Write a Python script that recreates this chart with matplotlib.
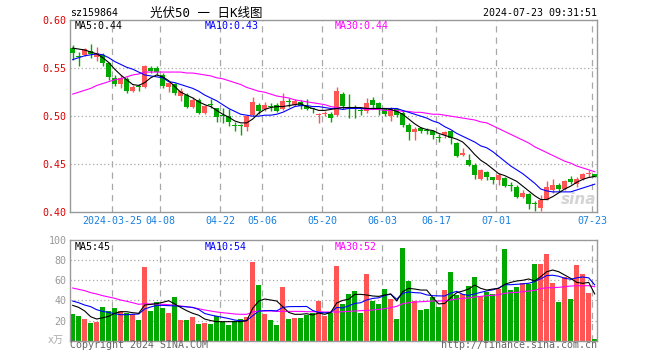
import matplotlib
matplotlib.use("Agg")
import numpy as np
import pandas as pd
import matplotlib.pyplot as plt

plt.rcParams['font.family'] = ['DejaVu Sans Mono', 'Noto Sans CJK SC']

# trading days shown: 2024-03-14 .. 2024-07-23 (exchange holidays removed)
holidays = ["2024-04-04", "2024-04-05", "2024-05-01", "2024-05-02", "2024-05-03", "2024-06-10"]
days = pd.bdate_range("2024-03-14", "2024-07-23")
days = days[~days.isin(pd.to_datetime(holidays))]

tick_dates = ["2024-03-25", "2024-04-08", "2024-04-22", "2024-05-06", "2024-05-20",
              "2024-06-03", "2024-06-17", "2024-07-01", "2024-07-23"]
tick_labels = ["2024-03-25", "04-08", "04-22", "05-06", "05-20",
               "06-03", "06-17", "07-01", "07-23"]

opens = [0.571, 0.563, 0.564, 0.568, 0.562, 0.564, 0.555, 0.540, 0.534, 0.539,
         0.526, 0.531, 0.530, 0.550, 0.550, 0.543, 0.530, 0.534, 0.521, 0.522,
         0.510, 0.517, 0.503, 0.513, 0.508, 0.501, 0.500, 0.491, 0.491, 0.489,
         0.501, 0.512, 0.507, 0.511, 0.512, 0.507, 0.516, 0.512, 0.515, 0.511,
         0.508, 0.501, 0.502, 0.502, 0.501, 0.523, 0.510, 0.510, 0.506, 0.505,
         0.517, 0.514, 0.507, 0.500, 0.507, 0.503, 0.491, 0.483, 0.488, 0.486,
         0.484, 0.478, 0.480, 0.484, 0.472, 0.459, 0.454, 0.449, 0.434, 0.442,
         0.436, 0.433, 0.435, 0.428, 0.426, 0.416, 0.419, 0.409, 0.404, 0.413,
         0.423, 0.428, 0.424, 0.434, 0.429, 0.434, 0.440, 0.440]
closes = [0.566, 0.562, 0.570, 0.565, 0.566, 0.555, 0.541, 0.534, 0.540, 0.526,
          0.530, 0.530, 0.552, 0.547, 0.546, 0.531, 0.535, 0.524, 0.526, 0.510,
          0.517, 0.503, 0.511, 0.512, 0.499, 0.500, 0.494, 0.490, 0.490, 0.500,
          0.515, 0.505, 0.512, 0.510, 0.505, 0.516, 0.515, 0.516, 0.511, 0.507,
          0.507, 0.502, 0.502, 0.498, 0.526, 0.511, 0.508, 0.507, 0.505, 0.514,
          0.512, 0.507, 0.502, 0.508, 0.501, 0.491, 0.483, 0.487, 0.484, 0.485,
          0.480, 0.477, 0.483, 0.477, 0.458, 0.462, 0.449, 0.439, 0.444, 0.436,
          0.433, 0.439, 0.427, 0.427, 0.416, 0.420, 0.408, 0.408, 0.413, 0.426,
          0.428, 0.424, 0.432, 0.431, 0.434, 0.440, 0.441, 0.437]
highs = [0.574, 0.567, 0.571, 0.575, 0.572, 0.566, 0.556, 0.543, 0.543, 0.541,
         0.533, 0.534, 0.553, 0.552, 0.552, 0.545, 0.536, 0.535, 0.529, 0.524,
         0.520, 0.519, 0.512, 0.518, 0.509, 0.509, 0.507, 0.494, 0.492, 0.501,
         0.520, 0.514, 0.515, 0.514, 0.514, 0.524, 0.519, 0.518, 0.517, 0.518,
         0.509, 0.503, 0.505, 0.504, 0.530, 0.525, 0.523, 0.512, 0.508, 0.519,
         0.520, 0.515, 0.509, 0.510, 0.509, 0.506, 0.493, 0.489, 0.489, 0.488,
         0.486, 0.481, 0.485, 0.485, 0.473, 0.467, 0.460, 0.451, 0.445, 0.443,
         0.437, 0.441, 0.436, 0.431, 0.428, 0.423, 0.420, 0.411, 0.418, 0.432,
         0.434, 0.430, 0.433, 0.438, 0.437, 0.441, 0.444, 0.440]
lows = [0.559, 0.552, 0.563, 0.561, 0.558, 0.552, 0.538, 0.531, 0.529, 0.524,
        0.525, 0.526, 0.529, 0.545, 0.543, 0.529, 0.525, 0.522, 0.516, 0.508,
        0.509, 0.502, 0.502, 0.508, 0.494, 0.493, 0.490, 0.484, 0.480, 0.485,
        0.500, 0.502, 0.505, 0.505, 0.504, 0.506, 0.510, 0.511, 0.507, 0.506,
        0.503, 0.493, 0.500, 0.494, 0.500, 0.507, 0.498, 0.498, 0.501, 0.503,
        0.508, 0.501, 0.500, 0.495, 0.499, 0.489, 0.475, 0.475, 0.482, 0.481,
        0.476, 0.473, 0.477, 0.471, 0.457, 0.458, 0.448, 0.434, 0.433, 0.433,
        0.429, 0.428, 0.426, 0.422, 0.415, 0.415, 0.403, 0.401, 0.401, 0.413,
        0.420, 0.421, 0.423, 0.429, 0.426, 0.433, 0.436, 0.437]

ma5 = [0.571, 0.570, 0.569, 0.567, 0.565, 0.561, 0.556, 0.549, 0.543, 0.538,
       0.533, 0.532, 0.535, 0.540, 0.543, 0.541, 0.537, 0.531, 0.525, 0.522,
       0.519, 0.515, 0.512, 0.510, 0.506, 0.502, 0.499, 0.495, 0.493, 0.493,
       0.497, 0.503, 0.507, 0.509, 0.510, 0.510, 0.511, 0.512, 0.513, 0.510,
       0.508, 0.506, 0.506, 0.507, 0.508, 0.509, 0.509, 0.509, 0.509, 0.508,
       0.508, 0.508, 0.508, 0.507, 0.505, 0.502, 0.497, 0.492, 0.488, 0.486,
       0.485, 0.482, 0.480, 0.478, 0.476, 0.473, 0.467, 0.460, 0.454, 0.450,
       0.445, 0.440, 0.438, 0.435, 0.432, 0.427, 0.422, 0.417, 0.413, 0.413,
       0.416, 0.420, 0.424, 0.427, 0.431, 0.434, 0.436, 0.437]
ma10 = [0.559, 0.561, 0.563, 0.564, 0.565, 0.564, 0.561, 0.557, 0.554, 0.551,
        0.549, 0.546, 0.543, 0.542, 0.541, 0.540, 0.536, 0.535, 0.533, 0.531,
        0.529, 0.526, 0.522, 0.519, 0.516, 0.512, 0.508, 0.505, 0.502, 0.501,
        0.500, 0.500, 0.501, 0.501, 0.502, 0.504, 0.507, 0.510, 0.511, 0.511,
        0.510, 0.510, 0.509, 0.508, 0.508, 0.507, 0.508, 0.508, 0.508, 0.508,
        0.508, 0.508, 0.508, 0.508, 0.508, 0.506, 0.504, 0.502, 0.500, 0.498,
        0.495, 0.493, 0.489, 0.486, 0.482, 0.479, 0.476, 0.473, 0.469, 0.467,
        0.463, 0.458, 0.453, 0.448, 0.444, 0.440, 0.435, 0.430, 0.424, 0.422,
        0.421, 0.421, 0.421, 0.421, 0.423, 0.425, 0.427, 0.429]
ma30 = [0.523, 0.525, 0.527, 0.529, 0.532, 0.534, 0.536, 0.538, 0.539, 0.541,
        0.543, 0.544, 0.546, 0.546, 0.546, 0.546, 0.546, 0.546, 0.546, 0.545,
        0.545, 0.544, 0.543, 0.542, 0.540, 0.539, 0.537, 0.535, 0.533, 0.530,
        0.528, 0.526, 0.525, 0.523, 0.521, 0.520, 0.519, 0.517, 0.516, 0.515,
        0.514, 0.513, 0.512, 0.510, 0.509, 0.509, 0.508, 0.508, 0.508, 0.507,
        0.507, 0.507, 0.506, 0.506, 0.506, 0.505, 0.505, 0.504, 0.504, 0.503,
        0.502, 0.502, 0.501, 0.500, 0.499, 0.498, 0.497, 0.496, 0.494, 0.493,
        0.490, 0.487, 0.484, 0.481, 0.478, 0.475, 0.472, 0.468, 0.465, 0.462,
        0.459, 0.456, 0.453, 0.451, 0.448, 0.446, 0.444, 0.442]

# volume in 万
volume = [26.8, 24.8, 21.5, 17.9, 18.9, 33.8, 29.8, 32.8, 29.5, 27.8,
          26.2, 20.9, 73.5, 29.8, 38.4, 32.8, 27.8, 43.7, 20.2, 20.5,
          23.8, 16.9, 17.9, 16.9, 24.8, 18.2, 15.9, 19.9, 21.5, 23.8,
          78.5, 55.6, 26.8, 20.5, 15.9, 53.6, 21.5, 22.5, 22.5, 25.8,
          27.8, 39.7, 24.8, 27.5, 74.5, 36.4, 46.4, 49.3, 27.8, 66.2,
          39.7, 36.4, 51.7, 41.7, 21.5, 92.4, 59.6, 39.1, 30.5, 31.5,
          43.7, 33.8, 50.3, 68.2, 45.4, 46.4, 54.3, 63.2, 44.4, 48.7,
          46.4, 51.3, 91.1, 50.3, 53.6, 57.6, 56.3, 76.2, 76.2, 86.1,
          57.6, 38.4, 63.6, 41.7, 75.2, 66.6, 47.7, 1.7]
vma5 = [35.1, 33.1, 29.5, 23.8, 21.5, 22.8, 24.2, 27.2, 28.8, 28.8,
        27.8, 27.2, 35.4, 36.1, 36.8, 38.1, 39.7, 36.5, 33.0, 29.8,
        27.2, 25.3, 21.5, 20.0, 18.9, 18.9, 18.9, 18.9, 18.9, 19.9,
        32.1, 39.4, 41.4, 40.4, 39.4, 33.8, 28.1, 26.2, 26.2, 26.8,
        25.5, 27.5, 26.2, 28.1, 37.5, 40.0, 41.2, 46.0, 46.0, 45.4,
        44.4, 44.0, 45.4, 46.4, 39.4, 48.7, 52.0, 51.3, 50.3, 50.3,
        43.0, 36.5, 37.0, 42.7, 47.7, 49.3, 51.3, 55.3, 52.0, 50.3,
        51.3, 52.0, 56.0, 57.9, 59.3, 60.0, 61.3, 59.3, 63.6, 68.5,
        70.2, 68.5, 65.2, 61.9, 57.9, 57.0, 57.9, 46.4]
vma10 = [39.4, 37.7, 35.4, 33.8, 30.8, 29.1, 28.1, 26.8, 25.8, 25.8,
         26.2, 26.5, 31.5, 33.5, 35.0, 35.1, 34.8, 34.6, 34.1, 33.6,
         33.1, 31.0, 27.0, 25.5, 24.3, 23.2, 22.0, 20.5, 19.8, 19.9,
         24.8, 29.4, 29.8, 30.0, 29.6, 33.0, 33.8, 33.9, 33.9, 34.0,
         30.0, 28.0, 27.7, 28.0, 33.0, 32.6, 34.6, 37.0, 37.7, 40.5,
         42.0, 42.6, 44.8, 46.3, 41.2, 47.0, 48.4, 47.7, 47.4, 45.5,
         44.7, 44.5, 44.4, 47.2, 49.0, 46.0, 45.0, 46.5, 48.0, 49.4,
         50.5, 52.3, 55.6, 55.6, 56.0, 56.5, 57.0, 58.8, 61.5, 64.7,
         65.0, 64.0, 62.0, 61.0, 62.4, 63.3, 62.4, 55.4]
vma30 = [52.3, 51.0, 49.7, 47.7, 46.4, 44.7, 43.4, 42.1, 40.4, 39.1,
         37.7, 36.1, 36.8, 36.4, 36.4, 36.1, 35.8, 35.1, 34.4, 33.8,
         32.8, 31.8, 30.5, 29.5, 28.5, 27.8, 27.2, 26.5, 26.2, 26.2,
         28.5, 29.5, 29.5, 29.5, 29.1, 29.1, 29.1, 29.1, 29.1, 28.8,
         28.8, 28.8, 28.5, 28.5, 28.5, 28.8, 29.1, 29.5, 29.8, 30.1,
         30.5, 31.1, 31.8, 32.8, 34.1, 36.8, 37.7, 38.4, 38.7, 39.1,
         39.4, 39.4, 39.7, 40.4, 41.4, 42.1, 42.4, 43.4, 44.0, 44.7,
         45.0, 45.7, 47.0, 47.7, 48.0, 48.7, 49.3, 50.0, 51.7, 52.6,
         52.6, 53.0, 53.6, 54.3, 54.6, 54.6, 54.6, 53.6]

RED = '#ff5555'
GREEN = '#00a800'
GRID = '#a8a8a8'
SPINE = '#999999'
W, H = 660, 360

o = np.array(opens)
c = np.array(closes)
x = np.arange(len(days))
xc = x + 0.45
up = c >= o
colors = np.where(up, RED, GREEN)
ticks = [days.get_loc(pd.Timestamp(d)) for d in tick_dates]


def px(xp, yp):
    return xp / W, 1 - yp / H


fig = plt.figure(figsize=(6.6, 3.6), dpi=100)
ax = fig.add_axes([70 / W, 1 - 212 / H, 527 / W, (212 - 20.3) / H])
axv = fig.add_axes([70 / W, 1 - 340.7 / H, 527 / W, (340.7 - 240) / H])

for a in (ax, axv):
    a.set_xlim(0, 87.83)
    for s in a.spines.values():
        s.set_color(SPINE)
        s.set_linewidth(1)
    for t in ticks:
        a.axvline(t, color=GRID, lw=0.9, ls=(0, (5, 4)), zorder=0)
    a.tick_params(length=0, labelsize=7.2)

# price panel
ax.set_ylim(0.40, 0.60)
for yv in [0.45, 0.50, 0.55]:
    ax.axhline(yv, color=GRID, lw=0.9, ls=(0, (1, 2)), zorder=0)
ax.set_yticks([0.40, 0.45, 0.50, 0.55, 0.60])
ax.set_yticklabels([f"{v:.2f}" for v in [0.40, 0.45, 0.50, 0.55, 0.60]])
ax.tick_params(axis='y', colors='#e00000', pad=2.5)
ax.set_xticks(ticks)
ax.set_xticklabels(tick_labels)
ax.tick_params(axis='x', colors='#1a80e0', pad=3)

ax.vlines(xc, lows, highs, colors=colors, lw=1, zorder=2)
body = np.maximum(np.abs(c - o), 0.0009)
ax.bar(xc, body, bottom=np.minimum(o, c), width=0.88, color=colors, lw=0, zorder=3)

ax.plot(xc, ma30, color='#ff00ff', lw=0.8, zorder=4)
ax.plot(xc, ma10, color='#0000ff', lw=0.8, zorder=4)
ax.plot(xc, ma5, color='black', lw=0.8, zorder=4)

# volume panel
axv.set_ylim(0, 100)
for yv in [20, 40, 60, 80]:
    axv.axhline(yv, color=GRID, lw=0.9, ls=(0, (1, 2)), zorder=0)
axv.set_yticks([20, 40, 60, 80, 100])
axv.tick_params(axis='y', colors='#999999', pad=2.5)
axv.set_xticks([])
axv.bar(xc, volume, width=0.88, color=colors, lw=0, zorder=2)
axv.plot(xc, vma30, color='#ff00ff', lw=0.8, zorder=4)
axv.plot(xc, vma10, color='#0000ff', lw=0.8, zorder=4)
axv.plot(xc, vma5, color='black', lw=0.8, zorder=4)

# header
fig.text(*px(70, 13), "sz159864", ha='left', va='center', size=7.2)
fig.text(*px(206, 13), "光伏50 一 日K线图", ha='center', va='center', size=9)
fig.text(*px(597, 13), "2024-07-23 09:31:51", ha='right', va='center', size=7.2)

# MA legends
fig.text(*px(75, 26), "MA5:0.44", ha='left', va='center', size=7.2, color='black')
fig.text(*px(205, 26), "MA10:0.43", ha='left', va='center', size=7.2, color='#0000ff')
fig.text(*px(335, 26), "MA30:0.44", ha='left', va='center', size=7.2, color='#ff00ff')
fig.text(*px(75, 246.5), "MA5:45", ha='left', va='center', size=7.2, color='black')
fig.text(*px(205, 246.5), "MA10:54", ha='left', va='center', size=7.2, color='#0000ff')
fig.text(*px(335, 246.5), "MA30:52", ha='left', va='center', size=7.2, color='#ff00ff')

# footer
fig.text(*px(64, 339.5), "x万", ha='right', va='center', size=7.2, color='#aaaaaa')
fig.text(*px(70, 345.5), "Copyright 2024 SINA.COM", ha='left', va='center', size=7.2, color='#666666')
fig.text(*px(597, 345.5), "http://finance.sina.com.cn", ha='right', va='center', size=7.2, color='#666666')

# watermark
fig.text(*px(596, 200), "sina", ha='right', va='center', size=11, color='#d4d4d4',
         family='DejaVu Sans', weight='bold', style='italic')

fig.savefig("out.png", dpi=100)
